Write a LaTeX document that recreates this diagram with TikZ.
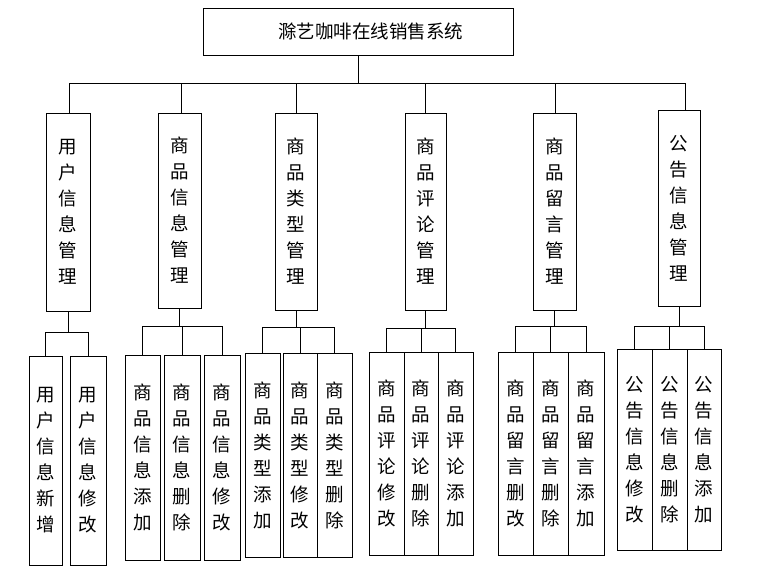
\documentclass[tikz,border=0pt]{standalone}
\usepackage{fontspec}
\newfontfamily\cjk{Noto Sans CJK SC}
\begin{document}
\begin{tikzpicture}[x=1pt,y=-1pt,
  bx/.style={draw,semithick,inner sep=0pt,font=\cjk\fontsize{18.5}{26}\selectfont,align=center},
  ln/.style={semithick}]
\useasboundingbox (0,0) rectangle (760,575);
\node[bx,minimum width=310pt,minimum height=47pt] (root) at (358,31.5) {\hspace*{25pt}滁艺咖啡在线销售系统};
% level 2
\node[bx,minimum width=44pt,minimum height=198pt] (m1) at (68,212) {用\\户\\信\\息\\管\\理};
\node[bx,minimum width=43pt,minimum height=195pt] (m2) at (179.5,210.5) {商\\品\\信\\息\\管\\理};
\node[bx,minimum width=42pt,minimum height=197pt] (m3) at (296,211.5) {商\\品\\类\\型\\管\\理};
\node[bx,minimum width=41pt,minimum height=197pt] (m4) at (425.5,211.5) {商\\品\\评\\论\\管\\理};
\node[bx,minimum width=43pt,minimum height=197pt] (m5) at (554.5,211.5) {商\\品\\留\\言\\管\\理};
\node[bx,minimum width=42pt,minimum height=196pt] (m6) at (679,208) {公\\告\\信\\息\\管\\理};
\coordinate (bl) at (69,83); \coordinate (br) at (685,83);
\draw[ln] (root.south) -- (root.south|-bl);
\draw[ln] (bl) -- (br);
\foreach \m/\x in {m1/69,m2/181,m3/296,m4/425,m5/555,m6/685}
  \draw[ln] (\m.north-|\x,0) -- (\x,83);
% level 3
\newcommand{\leaf}[6]{\node[bx,minimum width=#3pt,minimum height=#5pt] (#1) at (#2,#4) {#6};}
\leaf{a1}{45.5}{33}{460.5}{209}{用\\户\\信\\息\\新\\增}
\leaf{a2}{88}{36}{460.5}{209}{用\\户\\信\\息\\修\\改}
\leaf{b1}{142.5}{35}{457.5}{205}{商\\品\\信\\息\\添\\加}
\leaf{b2}{182}{36}{457.5}{205}{商\\品\\信\\息\\删\\除}
\leaf{b3}{222}{36}{457.5}{205}{商\\品\\信\\息\\修\\改}
\leaf{c1}{262.5}{35}{455}{204}{商\\品\\类\\型\\添\\加}
\leaf{c2}{300}{34}{455}{204}{商\\品\\类\\型\\修\\改}
\leaf{c3}{334.5}{35}{455}{204}{商\\品\\类\\型\\删\\除}
\leaf{d1}{386.5}{35}{453.5}{203}{商\\品\\评\\论\\修\\改}
\leaf{d2}{421}{34}{453.5}{203}{商\\品\\评\\论\\删\\除}
\leaf{d3}{455.5}{35}{453.5}{203}{商\\品\\评\\论\\添\\加}
\leaf{e1}{515.5}{35}{453.5}{203}{商\\品\\留\\言\\删\\改}
\leaf{e2}{550.5}{35}{453.5}{203}{商\\品\\留\\言\\删\\除}
\leaf{e3}{586}{36}{453.5}{203}{商\\品\\留\\言\\添\\加}
\leaf{f1}{634.5}{35}{449.5}{201}{公\\告\\信\\息\\修\\改}
\leaf{f2}{669.5}{35}{449.5}{201}{公\\告\\信\\息\\删\\除}
\leaf{f3}{704}{34}{449.5}{201}{公\\告\\信\\息\\添\\加}
\foreach \p/\a/\b/\c/\y in {m2/b1/b2/b3/326,m3/c1/c2/c3/327,m4/d1/d2/d3/328,m5/e1/e2/e3/326,m6/f1/f2/f3/326}{
  \draw[ln] (\p.south) -- (\p.south|-0,\y);
  \draw[ln] (\a.north|-0,\y) -- (\c.north|-0,\y);
  \foreach \k in {\a,\b,\c} \draw[ln] (\k.north) -- (\k.north|-0,\y);
}
\draw[ln] (m1.south) -- (m1.south|-0,332);
\draw[ln] (a1.north|-0,332) -- (a2.north|-0,332);
\foreach \k in {a1,a2} \draw[ln] (\k.north) -- (\k.north|-0,332);
\end{tikzpicture}
\end{document}
